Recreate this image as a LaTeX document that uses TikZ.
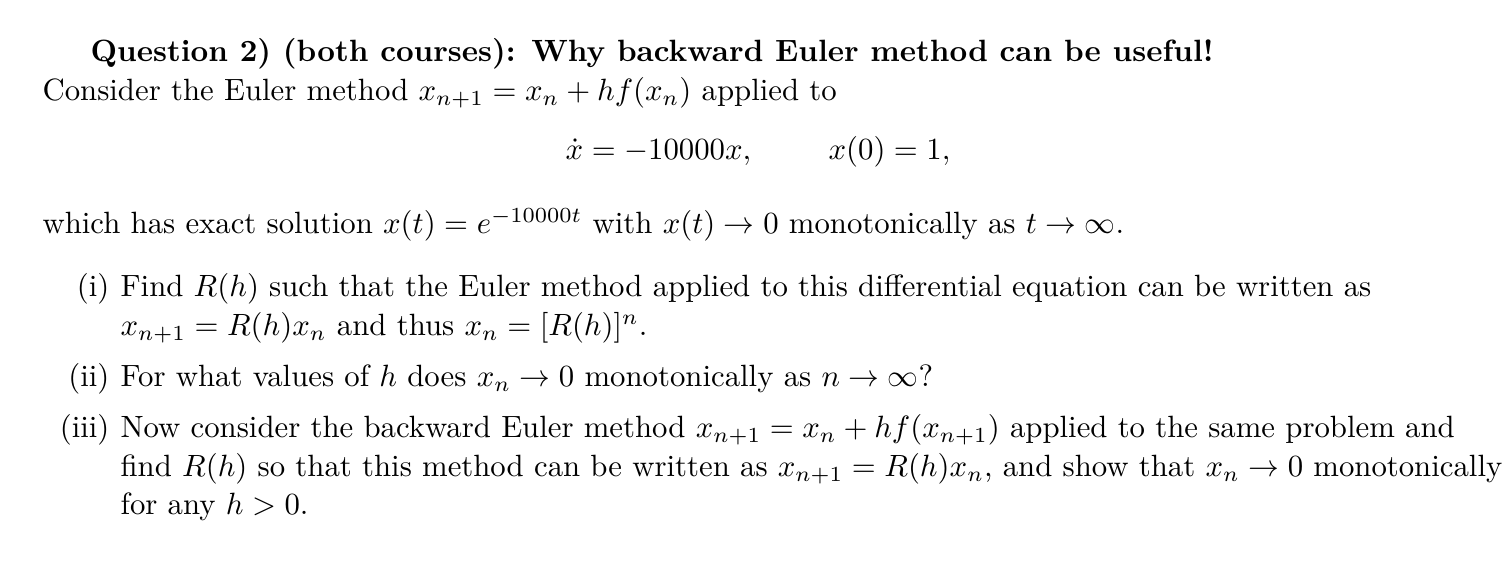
\documentclass[tikz,border=0pt]{standalone}
\usepackage{amsmath}
\begin{document}
\begin{tikzpicture}[x=0.325pt,y=-0.325pt,txt/.style={anchor=base west,inner sep=0pt}]
\useasboundingbox (0,0) rectangle (1506,564);
\node[txt] (t) at (90,62) {\bfseries Question 2) (both courses): Why backward Euler method can be useful!};
\node[txt] (l1) at (42,101) {Consider the Euler method $x_{n+1}=x_n+hf(x_n)$ applied to};
\node[txt] (e1) at (565,160) {$\dot x=-10000x,$};
\node[txt] (e2) at (828,160) {$x(0)=1,$};
\node[txt] (l2) at (42,234) {which has exact solution $x(t)=e^{-10000t}$ with $x(t)\to0$ monotonically as $t\to\infty$.};
\node[txt,anchor=base east] (i) at (110,297) {(i)};
\node[txt] (i1) at (120,297) {Find $R(h)$ such that the Euler method applied to this differential equation can be written as};
\node[txt] (i2) at (120,336) {$x_{n+1}=R(h)x_n$ and thus $x_n=[R(h)]^n$.};
\node[txt,anchor=base east] (ii) at (110,387) {(ii)};
\node[txt] (ii1) at (120,387) {For what values of $h$ does $x_n\to0$ monotonically as $n\to\infty$?};
\node[txt,anchor=base east] (iii) at (110,438) {(iii)};
\node[txt] (iii1) at (120,438) {Now consider the backward Euler method $x_{n+1}=x_n+hf(x_{n+1})$ applied to the same problem and};
\node[txt] (iii2) at (120,477) {find $R(h)$ so that this method can be written as $x_{n+1}=R(h)x_n$, and show that $x_n\to0$ monotonically};
\node[txt] (iii3) at (120,515) {for any $h>0$.};
\end{tikzpicture}
\end{document}
